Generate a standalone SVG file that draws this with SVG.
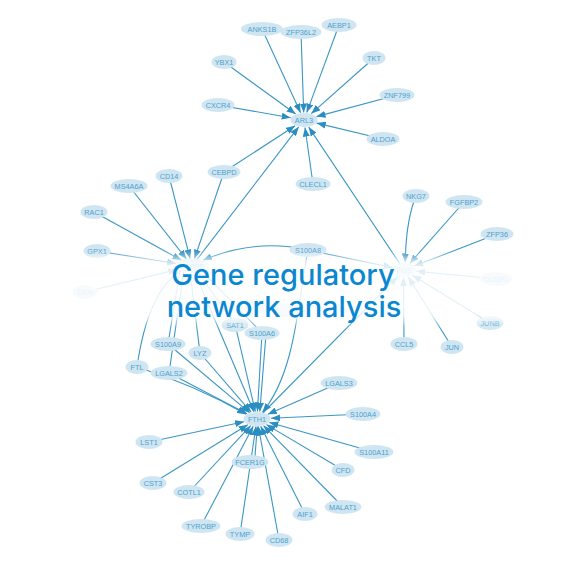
<svg xmlns="http://www.w3.org/2000/svg" width="567" height="567" viewBox="0 0 567 567">
<style>
.e{fill:none;stroke:#3a96c5;stroke-width:1.1}
.a{marker-end:url(#arr)}
.n ellipse{fill:#cfe6f2}
.n text{font-family:"Liberation Sans",Arial,sans-serif;font-size:7.3px;fill:#4f9fcb;text-anchor:middle}
.t{font-family:Inter,"Open Sans",sans-serif;font-weight:500;font-size:29px;fill:#0a87d0;text-anchor:middle}
</style>
<defs>
<marker id="arr" markerUnits="userSpaceOnUse" markerWidth="9" markerHeight="7" refX="9" refY="3.5" orient="auto">
<path d="M0,0 L9,3.5 L0,7 z" fill="#2b8dc2"/>
</marker>
<filter id="blur" x="-20%" y="-60%" width="140%" height="220%"><feGaussianBlur stdDeviation="5"/></filter>
</defs>
<rect width="567" height="567" fill="#fff"/>
<g id="edges">
<path class="e a" d="M262,29 L300.6,112.7"/>
<path class="e a" d="M301,32 L303.7,112.5"/>
<path class="e a" d="M339,25 L306.7,112.6"/>
<path class="e a" d="M224,62 L295.7,114"/>
<path class="e a" d="M374,58 L311.3,113.6"/>
<path class="e a" d="M218,105 L290.7,117.7"/>
<path class="e a" d="M397,95 L316.5,116.6"/>
<path class="e a" d="M383,139 L316.7,123.1"/>
<path class="e a" d="M224,172 L295.1,125.8"/>
<path class="e a" d="M313,184 L305,127.5"/>
<path class="e a" d="M192,266 L298.7,126.9"/>
<path class="e a" d="M404,270 L308.7,127.1"/>
<path class="e a" d="M97,251 L176,263.5"/>
<path class="e a" d="M94,212 L181.4,260.2"/>
<path class="e a" d="M129,186 L186.4,258.9"/>
<path class="e a" d="M169,176 L190.1,258.5"/>
<path class="e a" d="M224,172 L194.5,258.6"/>
<path class="e a" d="M308,250 Q255,238 203,260.3"/>
<path class="e a" d="M85,292 L177.1,269.6"/>
<path class="e" d="M137,367 Q148,290 182,270"/>
<path class="e" d="M168,344 L180,270"/>
<path class="e" d="M169,373 L184,270"/>
<path class="e" d="M200,353 L190,272"/>
<path class="e" d="M235,324 L197,271"/>
<path class="e" d="M262,333 L202,271"/>
<path class="e a" d="M416,196 Q406,220 405.2,262.5"/>
<path class="e a" d="M464,202 L409.8,263.4"/>
<path class="e a" d="M497,234 L414.2,266.1"/>
<path class="e a" d="M308,250 L392.6,267.6"/>
<path class="e a" d="M496,279 L416.2,271.2"/>
<path class="e a" d="M490,323 L412.5,275.2"/>
<path class="e a" d="M452,347 L408.3,277"/>
<path class="e a" d="M404,344 L403.5,277.5"/>
<path class="e a" d="M257,419 L397.7,276.4"/>
<path class="e a" d="M137,367 Q195,385 246.1,414.3"/>
<path class="e a" d="M169,373 L247,413.8"/>
<path class="e a" d="M168,344 L249.5,412.7"/>
<path class="e a" d="M200,353 L251.1,412.2"/>
<path class="e a" d="M192,266 L253.9,411.7"/>
<path class="e a" d="M235,324 L255.3,411.6"/>
<path class="e a" d="M262,333 L257.4,411.5"/>
<path class="e a" d="M266,334 L259.8,411.6"/>
<path class="e a" d="M308,250 C298,300 296,372 262.5,412.1"/>
<path class="e a" d="M339,383 L267.8,414.3"/>
<path class="e a" d="M363,414 L271,418.3"/>
<path class="e a" d="M374,452 L269.4,422.5"/>
<path class="e a" d="M343,470 L266.4,424.6"/>
<path class="e a" d="M343,507 L263.5,425.6"/>
<path class="e a" d="M305,514 L260.7,426.2"/>
<path class="e a" d="M279,540 L258.4,426.5"/>
<path class="e a" d="M240,534 L255.9,426.5"/>
<path class="e a" d="M255,456 L257.3,426.5"/>
<path class="e a" d="M201,526 L253.2,426.2"/>
<path class="e a" d="M189,492 L250.7,425.7"/>
<path class="e a" d="M153,483 L247.8,424.7"/>
<path class="e a" d="M149,442 L244,421.8"/>
</g>
<g id="node-ARL3" class="n"><ellipse cx="304" cy="120" rx="13.5" ry="7"/><text x="304" y="122.6">ARL3</text></g>
<g id="node-ANKS1B" class="n"><ellipse cx="262" cy="29" rx="21" ry="7"/><text x="262" y="31.6">ANKS1B</text></g>
<g id="node-ZFP36L2" class="n"><ellipse cx="301" cy="32" rx="20.5" ry="7"/><text x="301" y="34.6">ZFP36L2</text></g>
<g id="node-AEBP1" class="n"><ellipse cx="339" cy="25" rx="17.5" ry="7"/><text x="339" y="27.6">AEBP1</text></g>
<g id="node-YBX1" class="n"><ellipse cx="224" cy="62" rx="12.5" ry="7"/><text x="224" y="64.6">YBX1</text></g>
<g id="node-TKT" class="n"><ellipse cx="374" cy="58" rx="11.5" ry="7"/><text x="374" y="60.6">TKT</text></g>
<g id="node-CXCR4" class="n"><ellipse cx="218" cy="105" rx="16.5" ry="7"/><text x="218" y="107.6">CXCR4</text></g>
<g id="node-ZNF799" class="n"><ellipse cx="397" cy="95" rx="17.5" ry="7"/><text x="397" y="97.6">ZNF799</text></g>
<g id="node-ALDOA" class="n"><ellipse cx="383" cy="139" rx="16.5" ry="7"/><text x="383" y="141.6">ALDOA</text></g>
<g id="node-CEBPD" class="n"><ellipse cx="224" cy="172" rx="16.5" ry="7"/><text x="224" y="174.6">CEBPD</text></g>
<g id="node-CLECL1" class="n"><ellipse cx="313" cy="184" rx="17.5" ry="7"/><text x="313" y="186.6">CLECL1</text></g>
<g id="node-CD14" class="n"><ellipse cx="169" cy="176" rx="13.5" ry="7"/><text x="169" y="178.6">CD14</text></g>
<g id="node-MS4A6A" class="n"><ellipse cx="129" cy="186" rx="18.5" ry="7"/><text x="129" y="188.6">MS4A6A</text></g>
<g id="node-RAC1" class="n"><ellipse cx="94" cy="212" rx="13.5" ry="7"/><text x="94" y="214.6">RAC1</text></g>
<g id="node-GPX1" class="n"><ellipse cx="97" cy="251" rx="13.5" ry="7"/><text x="97" y="253.6">GPX1</text></g>
<g id="node-CEBPB" class="n"><ellipse cx="192" cy="266" rx="17" ry="7"/><text x="192" y="268.6">CEBPB</text></g>
<g id="node-S100A8" class="n"><ellipse cx="308" cy="250" rx="18.5" ry="7"/><text x="308" y="252.6">S100A8</text></g>
<g id="node-GRN" class="n"><ellipse cx="85" cy="292" rx="12.5" ry="7"/><text x="85" y="294.6">GRN</text></g>
<g id="node-NKG7" class="n"><ellipse cx="416" cy="196" rx="13.5" ry="7"/><text x="416" y="198.6">NKG7</text></g>
<g id="node-FGFBP2" class="n"><ellipse cx="464" cy="202" rx="18.5" ry="7"/><text x="464" y="204.6">FGFBP2</text></g>
<g id="node-ZFP36" class="n"><ellipse cx="497" cy="234" rx="16.5" ry="7"/><text x="497" y="236.6">ZFP36</text></g>
<g id="node-FOS" class="n"><ellipse cx="404" cy="270" rx="12" ry="7"/><text x="404" y="272.6">FOS</text></g>
<g id="node-DUSP1" class="n"><ellipse cx="496" cy="279" rx="16.5" ry="7"/><text x="496" y="281.6">DUSP1</text></g>
<g id="node-JUNB" class="n"><ellipse cx="490" cy="323" rx="13.5" ry="7"/><text x="490" y="325.6">JUNB</text></g>
<g id="node-CCL5" class="n"><ellipse cx="404" cy="344" rx="13.5" ry="7"/><text x="404" y="346.6">CCL5</text></g>
<g id="node-JUN" class="n"><ellipse cx="452" cy="347" rx="11.5" ry="7"/><text x="452" y="349.6">JUN</text></g>
<g id="node-S100A9" class="n"><ellipse cx="168" cy="344" rx="17.5" ry="7"/><text x="168" y="346.6">S100A9</text></g>
<g id="node-LYZ" class="n"><ellipse cx="200" cy="353" rx="11.5" ry="7"/><text x="200" y="355.6">LYZ</text></g>
<g id="node-FTL" class="n"><ellipse cx="137" cy="367" rx="11.5" ry="7"/><text x="137" y="369.6">FTL</text></g>
<g id="node-LGALS2" class="n"><ellipse cx="169" cy="373" rx="18.5" ry="7"/><text x="169" y="375.6">LGALS2</text></g>
<g id="node-SAT1" class="n"><ellipse cx="235" cy="325" rx="13.5" ry="7"/><text x="235" y="327.6">SAT1</text></g>
<g id="node-hidden1" class="n"><ellipse cx="260" cy="306" rx="16" ry="7"/></g>
<g id="node-hidden2" class="n"><ellipse cx="288" cy="310" rx="14" ry="7"/></g>
<g id="node-S100A6" class="n"><ellipse cx="262" cy="333" rx="17.5" ry="7"/><text x="262" y="335.6">S100A6</text></g>
<g id="node-FTH1" class="n"><ellipse cx="257" cy="419" rx="13.5" ry="7"/><text x="257" y="421.6">FTH1</text></g>
<g id="node-LGALS3" class="n"><ellipse cx="339" cy="383" rx="18.5" ry="7"/><text x="339" y="385.6">LGALS3</text></g>
<g id="node-S100A4" class="n"><ellipse cx="363" cy="414" rx="17.5" ry="7"/><text x="363" y="416.6">S100A4</text></g>
<g id="node-S100A11" class="n"><ellipse cx="374" cy="452" rx="19.5" ry="7"/><text x="374" y="454.6">S100A11</text></g>
<g id="node-LST1" class="n"><ellipse cx="149" cy="442" rx="13.5" ry="7"/><text x="149" y="444.6">LST1</text></g>
<g id="node-FCER1G" class="n"><ellipse cx="250" cy="462" rx="18.5" ry="7"/><text x="250" y="464.6">FCER1G</text></g>
<g id="node-CFD" class="n"><ellipse cx="343" cy="470" rx="11.5" ry="7"/><text x="343" y="472.6">CFD</text></g>
<g id="node-CST3" class="n"><ellipse cx="153" cy="483" rx="13.5" ry="7"/><text x="153" y="485.6">CST3</text></g>
<g id="node-COTL1" class="n"><ellipse cx="189" cy="492" rx="15.5" ry="7"/><text x="189" y="494.6">COTL1</text></g>
<g id="node-MALAT1" class="n"><ellipse cx="343" cy="507" rx="18.5" ry="7"/><text x="343" y="509.6">MALAT1</text></g>
<g id="node-AIF1" class="n"><ellipse cx="305" cy="514" rx="12.5" ry="7"/><text x="305" y="516.6">AIF1</text></g>
<g id="node-TYROBP" class="n"><ellipse cx="201" cy="526" rx="19.5" ry="7"/><text x="201" y="528.6">TYROBP</text></g>
<g id="node-TYMP" class="n"><ellipse cx="240" cy="534" rx="14.5" ry="7"/><text x="240" y="536.6">TYMP</text></g>
<g id="node-CD68" class="n"><ellipse cx="279" cy="540" rx="13.5" ry="7"/><text x="279" y="542.6">CD68</text></g>
<rect x="62" y="257" width="462" height="65" rx="20" fill="#fff" fill-opacity="0.86" filter="url(#blur)"/>
<g id="title">
<text class="t" x="283" y="285">Gene regulatory</text>
<text class="t" x="284" y="317">network analysis</text>
</g>
</svg>
